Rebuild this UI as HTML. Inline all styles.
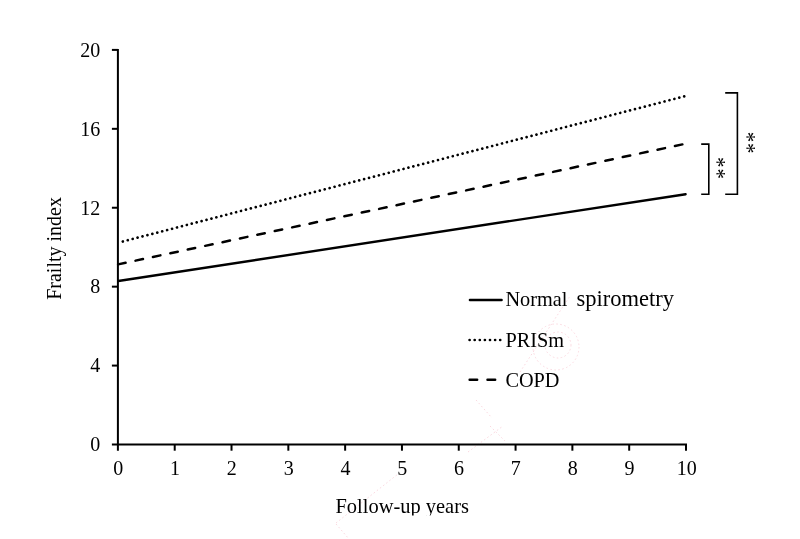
<!DOCTYPE html>
<html><head><meta charset="utf-8"><title>Chart</title>
<style>html,body{margin:0;padding:0;background:#fff;}body{width:800px;height:539px;overflow:hidden;}svg{display:block;will-change:transform;font-family:"Liberation Serif",serif;}</style>
</head><body>
<svg width="800" height="539" viewBox="0 0 800 539">
<rect width="800" height="539" fill="#ffffff"/>
<g stroke="#f7bfcb" stroke-width="1" fill="none" stroke-dasharray="1.6 2.4" opacity="0.6">
<circle cx="558" cy="345" r="13"/>
<circle cx="556" cy="347" r="23"/>
<path d="M520 372 L570 296"/>
<path d="M336 523 L398 474"/>
<path d="M336 524 L349 539"/>
<path d="M468 452 L503 426"/>
<path d="M490 426 L505 441"/>
<path d="M476 400 L492 418"/>
</g>
<g stroke="#000" stroke-width="2" fill="none" stroke-linecap="butt">
<path d="M117.90 48.90 V450.70"/>
<path d="M111.90 444.50 H687.00"/>
<path d="M111.90 365.58 H117.90"/>
<path d="M111.90 286.66 H117.90"/>
<path d="M111.90 207.74 H117.90"/>
<path d="M111.90 128.82 H117.90"/>
<path d="M111.90 49.90 H117.90"/>
<path d="M174.71 444.50 V450.70"/>
<path d="M231.52 444.50 V450.70"/>
<path d="M288.33 444.50 V450.70"/>
<path d="M345.14 444.50 V450.70"/>
<path d="M401.95 444.50 V450.70"/>
<path d="M458.76 444.50 V450.70"/>
<path d="M515.57 444.50 V450.70"/>
<path d="M572.38 444.50 V450.70"/>
<path d="M629.19 444.50 V450.70"/>
<path d="M686.00 444.50 V450.70"/>
</g>
<g font-size="20px" fill="#000">
<text x="100.2" y="451.30" text-anchor="end">0</text>
<text x="100.2" y="372.38" text-anchor="end">4</text>
<text x="100.2" y="293.46" text-anchor="end">8</text>
<text x="100.2" y="214.54" text-anchor="end">12</text>
<text x="100.2" y="135.62" text-anchor="end">16</text>
<text x="100.2" y="56.70" text-anchor="end">20</text>
<text x="118.20" y="475" text-anchor="middle">0</text>
<text x="175.01" y="475" text-anchor="middle">1</text>
<text x="231.82" y="475" text-anchor="middle">2</text>
<text x="288.63" y="475" text-anchor="middle">3</text>
<text x="345.44" y="475" text-anchor="middle">4</text>
<text x="402.25" y="475" text-anchor="middle">5</text>
<text x="459.06" y="475" text-anchor="middle">6</text>
<text x="515.87" y="475" text-anchor="middle">7</text>
<text x="572.68" y="475" text-anchor="middle">8</text>
<text x="629.49" y="475" text-anchor="middle">9</text>
<text x="686.80" y="475" text-anchor="middle">10</text>
</g>
<g stroke="#000" fill="none">
<path d="M118.30 281.05 L685.60 194.20" stroke-width="2.4" stroke-linecap="round"/>
<path d="M118.12 264.35 L683.60 144.14" stroke-width="2.5" stroke-linecap="round" stroke-dasharray="7.621 10.168"/>
<path d="M122.8 241.5 L684.25 96.38" stroke-width="2.7" stroke-linecap="round" stroke-dasharray="0.01 5.0764"/>
</g>
<g stroke="#000" stroke-width="1.6" fill="none">
<path d="M701.2 144.1 H708.8 V194.3 H701.2"/>
<path d="M725.2 92.9 H737.4 V194.3 H725.2"/>
</g>
<g font-size="22.5px" fill="#000">
<text transform="translate(721.4 162.3) rotate(90) scale(0.93 1.06) translate(-5.6 10.6)">*</text>
<text transform="translate(721.4 173.6) rotate(90) scale(0.93 1.06) translate(-5.6 10.6)">*</text>
<text transform="translate(751.3 137.0) rotate(90) scale(0.93 1.06) translate(-5.6 10.6)">*</text>
<text transform="translate(751.3 148.2) rotate(90) scale(0.93 1.06) translate(-5.6 10.6)">*</text>
</g>
<g stroke="#000" fill="none">
<path d="M469.9 300 H501.6" stroke-width="2.4" stroke-linecap="round"/>
<path d="M469.6 340 H500.4" stroke-width="2.7" stroke-linecap="round" stroke-dasharray="0.01 5.09"/>
<path d="M469.65 379.85 H477.15 M487.5 379.85 H495.15" stroke-width="2.5" stroke-linecap="round"/>
</g>
<g fill="#000">
<text x="505.4" y="306.4" font-size="20.3px">Normal</text>
<text x="576.5" y="306.4" font-size="22.5px">spirometry</text>
<text x="505.4" y="346.7" font-size="20.3px">PRISm</text>
<text x="505.4" y="386.6" font-size="20.3px">COPD</text>
</g>
<text transform="translate(61.2 299.8) rotate(-90)" font-size="20px" fill="#000">Frailty index</text>
<clipPath id="c"><rect x="300" y="490" width="200" height="25.6"/></clipPath>
<text x="335.5" y="513.3" font-size="20.45px" fill="#000" clip-path="url(#c)">Follow-up years</text>
</svg></body></html>
